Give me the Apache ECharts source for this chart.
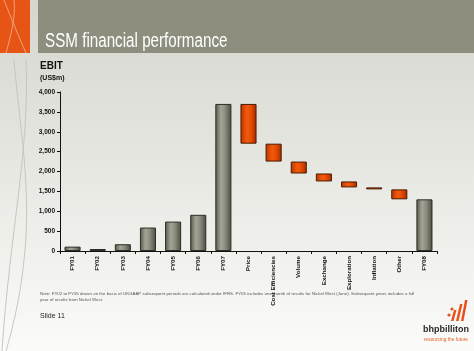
<!DOCTYPE html>
<html>
<head>
<meta charset="utf-8">
<script src="https://cdn.jsdelivr.net/npm/echarts@6/dist/echarts.min.js"></script>
<style>
  html, body { margin: 0; padding: 0; }
  #chart { width: 474px; height: 351px; background: linear-gradient(#d6d6cf 0%, #e6e6e1 45%, #fbfbfa 100%); }
</style>
</head>
<body>
<div id="chart"></div>
<script>
// EBIT (US$m)
var categories = ['FY01', 'FY02', 'FY03', 'FY04', 'FY05', 'FY06', 'FY07',
  'Price', 'Cost Efficiencies', 'Volume', 'Exchange', 'Exploration', 'Inflation', 'Other', 'FY08'];
var yearValues = [110, 50, 170, 590, 740, 910, 3700];   // FY01..FY07
var bridgeChanges = [-1000, -450, -300, -200, -150, -50, -250];   // Price..Other
var finalValue = 1300;   // FY08
var yTicks = [0, 500, 1000, 1500, 2000, 2500, 3000, 3500, 4000];

// build waterfall series: solid totals, invisible base + orange step
var totals = [], base = [], steps = [];
yearValues.forEach(function (v) { totals.push(v); base.push('-'); steps.push('-'); });
var running = yearValues[yearValues.length - 1];
bridgeChanges.forEach(function (d) {
  var next = running + d;
  totals.push('-');
  base.push(Math.min(running, next));
  steps.push(Math.abs(d));
  running = next;
});
totals.push(finalValue); base.push('-'); steps.push('-');

var greyBar = {
  color: new echarts.graphic.LinearGradient(0, 0, 1, 0, [
    { offset: 0, color: '#55554a' },
    { offset: 0.35, color: '#a4a496' },
    { offset: 0.6, color: '#8e8e80' },
    { offset: 1, color: '#4a4a40' }
  ]),
  borderColor: '#2e2e26',
  borderWidth: 1
};
var orangeBar = {
  color: new echarts.graphic.LinearGradient(0, 0, 1, 0, [
    { offset: 0, color: '#b83400' },
    { offset: 0.4, color: '#f25a0c' },
    { offset: 0.65, color: '#e84c00' },
    { offset: 1, color: '#a02c00' }
  ]),
  borderColor: '#4a1a00',
  borderWidth: 1
};

var chart = echarts.init(document.getElementById('chart'), null, { renderer: 'canvas' });
chart.setOption({
  animation: false,
  textStyle: { fontFamily: 'Liberation Sans' },
  grid: { left: 60, right: 37, top: 92, bottom: 100 },
  graphic: [
    // header
    { type: 'rect', shape: { x: 0, y: 0, width: 30, height: 53 }, style: { fill: '#e65516' } },
    { type: 'bezierCurve', shape: { x1: 4, y1: 0, cpx1: 12, cpy1: 20, cpx2: 18, cpy2: 35, x2: 26, y2: 53 }, style: { stroke: '#f3a27a', lineWidth: 1, fill: null } },
    { type: 'bezierCurve', shape: { x1: 14, y1: 0, cpx1: 16, cpy1: 18, cpx2: 10, cpy2: 38, x2: 6, y2: 53 }, style: { stroke: '#f3a27a', lineWidth: 1, fill: null } },
    { type: 'rect', shape: { x: 38, y: 0, width: 436, height: 53 }, style: { fill: '#8e8e7f' } },
    { type: 'text', x: 45, y: 31, scaleX: 0.76, style: { text: 'SSM financial performance', fill: '#ffffff', font: '20px "Liberation Sans"' } },
    // left decorative lines
    { type: 'bezierCurve', shape: { x1: 14, y1: 60, cpx1: 20, cpy1: 130, cpx2: 32, cpy2: 190, x2: 24, y2: 260 }, style: { stroke: '#c6c6be', lineWidth: 1, fill: null } },
    { type: 'bezierCurve', shape: { x1: 26, y1: 60, cpx1: 30, cpy1: 150, cpx2: 10, cpy2: 230, x2: 2, y2: 351 }, style: { stroke: '#c6c6be', lineWidth: 1, fill: null } },
    { type: 'bezierCurve', shape: { x1: 24, y1: 260, cpx1: 20, cpy1: 300, cpx2: 12, cpy2: 330, x2: 6, y2: 351 }, style: { stroke: '#c6c6be', lineWidth: 1, fill: null } },
    // axis title
    { type: 'text', left: 40, top: 61, style: { text: 'EBIT', fill: '#111', font: 'bold 10px "Liberation Sans"' } },
    { type: 'text', left: 40, top: 75, style: { text: '(US$m)', fill: '#111', font: 'bold 7px "Liberation Sans"' } },
    // footer
    { type: 'text', left: 40, top: 292, style: { text: 'Note: FY02 to FY05 drawn on the basis of UKGAAP subsequent periods are calculated under IFRS. FY05 includes one month of results for Nickel West (June). Subsequent years includes a full', fill: '#555', font: '4.4px "Liberation Sans"' } },
    { type: 'text', left: 40, top: 298, style: { text: 'year of results from Nickel West.', fill: '#555', font: '4.4px "Liberation Sans"' } },
    { type: 'text', left: 40, top: 313, style: { text: 'Slide 11', fill: '#222', font: '7px "Liberation Sans"' } },
    // logo
    { type: 'text', left: 423, top: 325, style: { text: 'bhpbilliton', fill: '#2a2a2a', font: 'bold 9px "Liberation Sans"' } },
    { type: 'text', left: 424, top: 337, style: { text: 'resourcing the future', fill: '#e06020', font: '4.8px "Liberation Sans"' } },
    { type: 'circle', shape: { cx: 449, cy: 315, r: 1.6 }, style: { fill: '#e8501a' } },
    { type: 'circle', shape: { cx: 452, cy: 309, r: 1.6 }, style: { fill: '#e8501a' } },
    { type: 'polygon', shape: { points: [[451, 321], [454, 310], [456.5, 310], [453.5, 321]] }, style: { fill: '#e8501a' } },
    { type: 'polygon', shape: { points: [[456, 321], [460, 304], [462.5, 304], [458.5, 321]] }, style: { fill: '#e8501a' } },
    { type: 'polygon', shape: { points: [[461, 321], [465, 300], [467.5, 300], [463.5, 321]] }, style: { fill: '#e8501a' } }
  ],
  xAxis: {
    type: 'category',
    data: categories,
    axisLine: { lineStyle: { color: '#111', width: 1 } },
    axisTick: { show: true, alignWithLabel: false, length: 3, lineStyle: { color: '#111' } },
    axisLabel: { rotate: 90, color: '#111', fontSize: 6.2, fontWeight: 'bold', margin: 5, interval: 0 }
  },
  yAxis: {
    type: 'value',
    min: yTicks[0],
    max: yTicks[yTicks.length - 1],
    interval: 500,
    splitLine: { show: false },
    axisLine: { show: true, lineStyle: { color: '#111', width: 1 } },
    axisTick: { show: true, length: 3, lineStyle: { color: '#111' } },
    axisLabel: {
      color: '#111', fontSize: 6.5, fontWeight: 'bold', margin: 5,
      formatter: function (v) { return v.toLocaleString('en-US'); }
    }
  },
  series: [
    {
      type: 'bar', stack: 'w', data: totals, barCategoryGap: '36%',
      itemStyle: greyBar
    },
    {
      type: 'bar', stack: 'w', data: base,
      itemStyle: { color: 'rgba(0,0,0,0)' }, silent: true
    },
    {
      type: 'bar', stack: 'w', data: steps,
      itemStyle: orangeBar
    }
  ]
});
</script>
</body>
</html>
